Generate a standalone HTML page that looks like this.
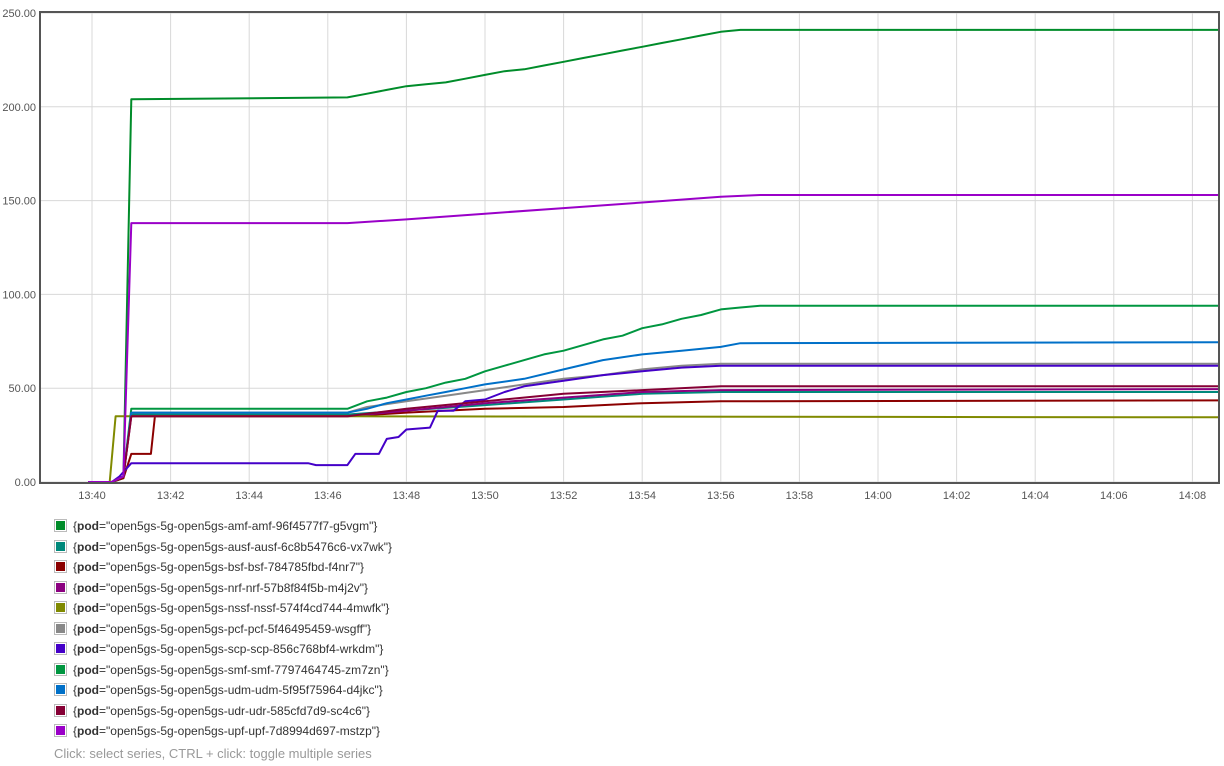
<!DOCTYPE html>
<html><head><meta charset="utf-8"><style>
body{margin:0;background:#fff;font-family:"Liberation Sans",sans-serif;}
#wrap{position:relative;width:1224px;height:766px;}
.leg{position:absolute;left:54px;font-size:12px;color:#333;height:16px;line-height:16px;white-space:nowrap;cursor:pointer}
.sw{display:inline-block;width:9px;height:9px;border:1px solid #bbb;padding:1px;margin-right:6px;vertical-align:-2px;background-clip:content-box}
#hint{position:absolute;left:54px;top:746px;font-size:13px;color:#999}
</style></head><body><div id="wrap">
<svg id="plot" width="1224" height="500" style="position:absolute;left:0;top:0"></svg>
<div id="legend"></div>
<div id="hint">Click: select series, CTRL + click: toggle multiple series</div>
</div>
<script>
const names=["amf-amf-96f4577f7-g5vgm","ausf-ausf-6c8b5476c6-vx7wk","bsf-bsf-784785fbd-f4nr7","nrf-nrf-57b8f84f5b-m4j2v","nssf-nssf-574f4cd744-4mwfk","pcf-pcf-5f46495459-wsgff","scp-scp-856c768bf4-wrkdm","smf-smf-7797464745-zm7zn","udm-udm-5f95f75964-d4jkc","udr-udr-585cfd7d9-sc4c6","upf-upf-7d8994d697-mstzp"];
const colors=["#008c2a","#00897b","#8b0000","#8b0080","#808a00","#888888","#4400c8","#009640","#0070c8","#860035","#9a00c8"];
const yTicks=[0,50,100,150,200,250];
const xTickLabels=["13:40","13:42","13:44","13:46","13:48","13:50","13:52","13:54","13:56","13:58","14:00","14:02","14:04","14:06","14:08"];
// times in minutes after 13:40
const amfT=[-0.1,0.5,0.8,1.0,6.5,7,7.5,8,8.5,9,9.5,10,10.5,11,11.5,12,12.5,13,13.5,14,14.5,15,15.5,16,16.5,28.7];
const amfV=[0,0,2,204,205,207,209,211,212,213,215,217,219,220,222,224,226,228,230,232,234,236,238,240,241,241];
const ausfT=[-0.1,0.5,0.8,1.0,6.5,10,12,14,16,28.7];
const ausfV=[0,0,3,36,36,41,44,47,48,48];
const bsfT=[-0.1,0.5,0.8,1.0,1.5,1.6,6.5,8,10,12,14,16,28.7];
const bsfV=[0,0,2,15,15,35,35,37,39,40,42,43,43.5];
const nrfT=[-0.1,0.5,0.8,1.0,6.5,10,12,14,16,28.7];
const nrfV=[0,0,3,35,35,42,45,48,49,49.5];
const nssfT=[-0.1,0.45,0.6,6.5,28.7];
const nssfV=[0,0,35,35,34.5];
const pcfT=[-0.1,0.5,0.8,1.0,6.5,7,8,9,10,11,12,13,14,15,16,28.7];
const pcfV=[0,0,3,37,37,40,43,46,49,52,55,57,60,62,63,63];
const scpT=[-0.1,0.5,0.7,1.0,5.5,5.7,6.5,6.7,7.3,7.5,7.8,8,8.6,8.8,9.2,9.5,10,10.5,11,12,13,14,15,16,28.7];
const scpV=[0,0,3,10,10,9,9,15,15,23,24,28,29,38,38,43,44,48,51,54,57,59,61,62,62];
const smfT=[-0.1,0.5,0.8,1.0,6.5,7,7.5,8,8.5,9,9.5,10,10.5,11,11.5,12,12.5,13,13.5,14,14.5,15,15.5,16,16.5,17,28.7];
const smfV=[0,0,3,39,39,43,45,48,50,53,55,59,62,65,68,70,73,76,78,82,84,87,89,92,93,94,94];
const udmT=[-0.1,0.5,0.8,1.0,6.5,7,7.5,8,8.5,9,9.5,10,11,12,13,14,15,16,16.5,28.7];
const udmV=[0,0,3,37,37,39,42,44,46,48,50,52,55,60,65,68,70,72,74,74.5];
const udrT=[-0.1,0.5,0.8,1.0,6.5,8,10,12,14,16,28.7];
const udrV=[0,0,3,35,35,39,43,47,49,51,51];
const upfT=[-0.1,0.5,0.8,1.0,6.5,8,10,12,14,16,17,28.7];
const upfV=[0,0,3,138,138,140,143,146,149,152,153,153];
const seriesT=[amfT,ausfT,bsfT,nrfT,nssfT,pcfT,scpT,smfT,udmT,udrT,upfT];
const seriesV=[amfV,ausfV,bsfV,nrfV,nssfV,pcfV,scpV,smfV,udmV,udrV,upfV];

const L=40,R=1219,T=12,B=483;
const xs=t=>92+t*39.3;
const ys=v=>482-v*(469/250);
const NS="http://www.w3.org/2000/svg";
const svg=document.getElementById('plot');
function mk(tag,a){const e=document.createElementNS(NS,tag);for(const k in a)e.setAttribute(k,a[k]);svg.appendChild(e);return e;}
yTicks.forEach(v=>{
 const g=mk('line',{x1:L,x2:R,y1:ys(v),y2:ys(v),stroke:'#d8d8d8','stroke-width':1});
 
 
 const t=mk('text',{x:36,y:ys(v)+4,'text-anchor':'end','font-size':11,fill:'#555','font-family':'Liberation Sans, sans-serif'});
 t.textContent=v.toFixed(2);
 
 
});
xTickLabels.forEach((s,i)=>{
 const x=xs(i*2);
 const g=mk('line',{x1:x,x2:x,y1:T,y2:B,stroke:'#d8d8d8','stroke-width':1});
 
 
 const t=mk('text',{x:x,y:499,'text-anchor':'middle','font-size':11,fill:'#555','font-family':'Liberation Sans, sans-serif'});
 t.textContent=s;
 
 
});
seriesT.forEach((ts,i)=>{
 const vs=seriesV[i];
 const p=mk('polyline',{points:ts.map((t,j)=>xs(t).toFixed(1)+','+ys(vs[j]).toFixed(1)).join(' '),fill:'none',stroke:colors[i],'stroke-width':2,'stroke-linejoin':'round'});
 
 
});
const fr=mk('rect',{x:L,y:T,width:R-L,height:B-T,fill:'none',stroke:'#555','stroke-width':2});


const leg=document.getElementById('legend');
names.forEach((n,i)=>{
 const d=document.createElement('div');
 d.className='leg';
 d.style.top=(518+i*20.5)+'px';
 d.innerHTML='<span class="sw" style="background-color:'+colors[i]+'"></span>{<b>pod</b>="open5gs-5g-open5gs-'+n+'"}';
 
 
 leg.appendChild(d);
});
</script></body></html>
